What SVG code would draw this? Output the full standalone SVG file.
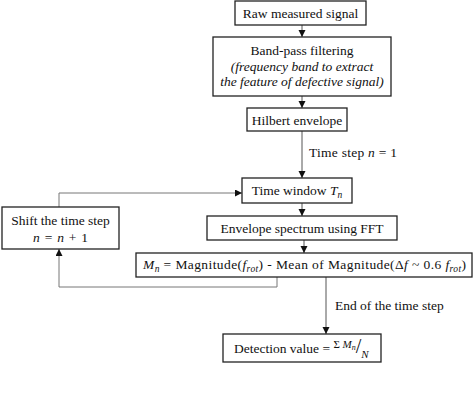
<svg xmlns="http://www.w3.org/2000/svg" width="474" height="410" viewBox="0 0 474 410">
<defs>
<style>
.box{fill:#fff;stroke:#222;stroke-width:1.3}
.t{font-family:"Liberation Serif","Times New Roman",serif;font-size:13.5px;fill:#111}
.c{text-anchor:middle}
.i{font-style:italic}
.sub{font-size:9.5px;font-style:italic}
.con{fill:none;stroke:#555;stroke-width:1}
.loop{fill:none;stroke:#777;stroke-width:1}
</style>
<marker id="ah" markerUnits="userSpaceOnUse" markerWidth="8" markerHeight="8" refX="7" refY="3.5" orient="auto">
<path d="M0,0 L7,3.5 L0,7 z" fill="#111"/>
</marker>
</defs>
<rect width="474" height="410" fill="#fff"/>

<g id="connectors">
<line class="con" x1="302" y1="25" x2="302" y2="37" marker-end="url(#ah)"/>
<line class="con" x1="302" y1="96" x2="302" y2="108" marker-end="url(#ah)"/>
<line class="con" x1="302" y1="131" x2="302" y2="178" marker-end="url(#ah)"/>
<line class="con" x1="302" y1="203" x2="302" y2="216" marker-end="url(#ah)"/>
<line class="con" x1="304" y1="240" x2="304" y2="253" marker-end="url(#ah)"/>
<path class="loop" d="M277,277 V287 H59 V249" marker-end="url(#ah)"/>
<path class="loop" d="M59,207 V193 H242" marker-end="url(#ah)"/>
<line class="con" x1="326" y1="277" x2="326" y2="334" marker-end="url(#ah)"/>
<text class="t" x="309" y="157" textLength="88" lengthAdjust="spacing">Time step <tspan class="i">n</tspan> = 1</text>
<text class="t" x="335" y="310">End of the time step</text>
</g>

<g id="raw">
<rect class="box" x="235" y="1" width="131" height="24"/>
<text class="t c" x="300.5" y="18">Raw measured signal</text>
</g>

<g id="bandpass">
<rect class="box" x="213" y="37" width="178" height="59"/>
<text class="t c" x="302" y="55">Band-pass filtering</text>
<text class="t c i" x="302" y="70.5">(frequency band to extract</text>
<text class="t c i" x="302" y="85.5">the feature of defective signal)</text>
</g>

<g id="hilbert">
<rect class="box" x="247" y="108" width="100" height="23"/>
<text class="t c" x="297" y="124.5">Hilbert envelope</text>
</g>

<g id="timewindow">
<rect class="box" x="242" y="178" width="110" height="25"/>
<text class="t c" x="297" y="195">Time window <tspan class="i">T</tspan><tspan class="sub" dy="3">n</tspan></text>
</g>

<g id="envelope">
<rect class="box" x="207" y="216" width="190" height="24"/>
<text class="t c" x="302" y="233">Envelope spectrum using FFT</text>
</g>

<g id="shift">
<rect class="box" x="2" y="207" width="117" height="42"/>
<text class="t c" x="60.5" y="225">Shift the time step</text>
<text class="t" x="33" y="242" textLength="55" lengthAdjust="spacing"><tspan class="i">n</tspan> = <tspan class="i">n</tspan> + 1</text>
</g>

<g id="magnitude">
<rect class="box" x="136" y="253" width="336" height="24"/>
<text class="t" x="143" y="269" textLength="323" lengthAdjust="spacing"><tspan class="i">M</tspan><tspan class="sub" dy="3">n</tspan><tspan dy="-3"> = Magnitude(</tspan><tspan class="i">f</tspan><tspan class="sub" dy="3">rot</tspan><tspan dy="-3">) - Mean of Magnitude(Δ</tspan><tspan class="i">f</tspan> ~ 0.6 <tspan class="i">f</tspan><tspan class="sub" dy="3">rot</tspan><tspan dy="-3">)</tspan></text>
</g>

<g id="detection">
<rect class="box" x="223" y="334" width="158" height="28"/>
<text class="t" x="234" y="353">Detection value = <tspan font-size="11" dy="-5">Σ </tspan><tspan font-size="11" class="i">M</tspan><tspan font-size="8" class="i" dy="2">n</tspan><tspan font-size="20" dy="3">/</tspan><tspan font-size="11" class="i" dy="5">N</tspan></text>
</g>
</svg>
